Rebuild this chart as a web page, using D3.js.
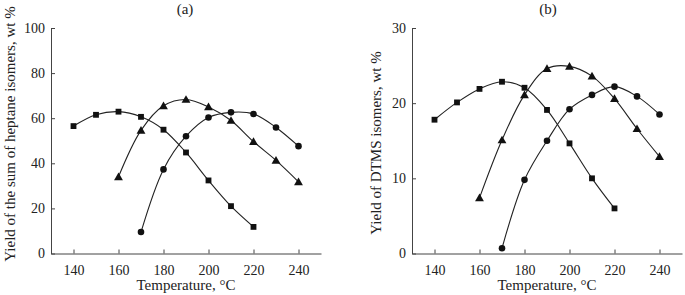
<!DOCTYPE html>
<html>
<head>
<meta charset="utf-8">
<script src="https://cdn.jsdelivr.net/npm/d3@7"></script>
<style>
  body { margin: 0; background: #fff; }
  svg text { font-family: "Liberation Serif", "DejaVu Serif", serif; fill: #222; }
</style>
</head>
<body>
<div id="vis"></div>
<script>
// values
const temps = [140, 150, 160, 170, 180, 190, 200, 210, 220, 230, 240]
const xTicks = [140, 160, 180, 200, 220, 240]

// (a) heptane isomers
const heptSquares = [[140, 56.5], [150, 61.5], [160, 62.9], [170, 60.6], [180, 54.9], [190, 44.8], [200, 32.4], [210, 21], [220, 11.8]]
const heptTriangles = [[160, 34], [170, 54.6], [180, 65.5], [190, 68.3], [200, 65], [210, 59], [220, 49.6], [230, 41.3], [240, 31.8]]
const heptCircles = [[170, 9.5], [180, 37.3], [190, 52], [200, 60.3], [210, 62.6], [220, 61.9], [230, 55.9], [240, 47.6]]
const heptYTicks = [0, 20, 40, 60, 80, 100]

// (b) DTMS isomers
const dtmsSquares = [[140, 17.8], [150, 20.1], [160, 21.9], [170, 22.85], [180, 22.05], [190, 19.1], [200, 14.65], [210, 10], [220, 6]]
const dtmsTriangles = [[160, 7.4], [170, 15.1], [180, 21.1], [190, 24.6], [200, 24.9], [210, 23.6], [220, 20.6], [230, 16.6], [240, 12.9]]
const dtmsCircles = [[170, 0.7], [180, 9.8], [190, 15], [200, 19.2], [210, 21.1], [220, 22.2], [230, 20.9], [240, 18.5]]
const dtmsYTicks = [0, 10, 20, 30]

const width = 685
const height = 295

const svg = d3.select("#vis")
    .append("svg")
    .attr("width", width)
    .attr("height", height)

function drawPanel(opt) {
    const x = d3.scaleLinear().domain([130, 250]).range([opt.left, opt.left + 270])
    const y = d3.scaleLinear().domain([0, opt.yMax]).range([253.5, 28])

    const g = svg.append("g")

    // y axis, ticks pointing inwards
    const yAxis = g.append("g")
        .attr("transform", `translate(${opt.left},0)`)
        .call(d3.axisLeft(y).tickValues(opt.yTicks).tickSize(-4).tickPadding(6).tickSizeOuter(0))
    // x axis, ticks pointing up
    const xAxis = g.append("g")
        .attr("transform", `translate(0,${y(0)})`)
        .call(d3.axisBottom(x).tickValues(xTicks).tickSize(-4).tickPadding(8).tickSizeOuter(0))

    for (const a of [xAxis, yAxis]) {
        a.select(".domain").attr("stroke", "#444")
        a.selectAll(".tick line").attr("stroke", "#444")
        a.selectAll("text").attr("font-size", 14).attr("fill", "#222")
            .style("font-family", '"Liberation Serif", serif')
    }
    xAxis.selectAll("text").attr("dy", "0.95em")

    const line = d3.line()
        .x(d => x(d[0]))
        .y(d => y(d[1]))
        .curve(d3.curveCatmullRom.alpha(0.5))

    const series = [
        { data: opt.squares, shape: d3.symbolSquare, size: 34 },
        { data: opt.triangles, shape: d3.symbolTriangle, size: 34 },
        { data: opt.circles, shape: d3.symbolCircle, size: 34 }
    ]

    for (const s of series) {
        g.append("path")
            .attr("d", line(s.data))
            .attr("fill", "none")
            .attr("stroke", "#222")
            .attr("stroke-width", 1.1)

        g.selectAll(null)
            .data(s.data)
            .enter()
            .append("path")
            .attr("transform", d => `translate(${x(d[0])},${y(d[1]) + (s.shape === d3.symbolTriangle ? 0.8 : 0)})`)
            .attr("d", d3.symbol().type(s.shape).size(s.size))
            .attr("fill", "#111")
    }

    // panel title
    g.append("text")
        .attr("x", opt.titleX)
        .attr("y", 14)
        .attr("text-anchor", "middle")
        .attr("font-size", 15)
        .text(opt.title)

    // x label
    g.append("text")
        .attr("x", opt.left + 135)
        .attr("y", 290)
        .attr("text-anchor", "middle")
        .attr("font-size", 15)
        .text("Temperature, °C")

    // y label
    g.append("text")
        .attr("transform", `translate(${opt.yLabelX},${opt.yLabelY}) rotate(-90)`)
        .attr("text-anchor", "middle")
        .attr("font-size", 15)
        .text(opt.yLabel)
}

drawPanel({
    left: 51, yMax: 100, yTicks: heptYTicks,
    squares: heptSquares, triangles: heptTriangles, circles: heptCircles,
    title: "(a)", titleX: 185,
    yLabel: "Yield of the sum of heptane isomers, wt %", yLabelX: 15, yLabelY: 134
})

drawPanel({
    left: 412, yMax: 30, yTicks: dtmsYTicks,
    squares: dtmsSquares, triangles: dtmsTriangles, circles: dtmsCircles,
    title: "(b)", titleX: 548,
    yLabel: "Yield of DTMS isomers, wt %", yLabelX: 381, yLabelY: 143
})
</script>
</body>
</html>
